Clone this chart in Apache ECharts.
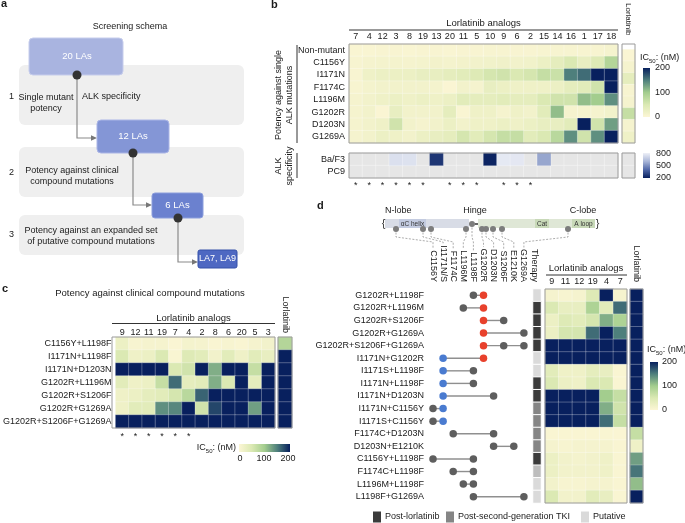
<!DOCTYPE html>
<html><head><meta charset="utf-8">
<script src="https://cdn.jsdelivr.net/npm/echarts@6/dist/echarts.min.js"></script>
<style>html,body{margin:0;padding:0;background:#fff}#c{width:685px;height:523px}</style>
</head><body><div id="c"></div>
<script>
const FONT = "'Liberation Sans', Arial, Helvetica, sans-serif";
const TXT = '#1a1a1a';

// ---------------- data ----------------
const bAnalogs = ['7','4','12','3','8','19','13','20','11','5','10','9','6','2','15','14','16','1','17','18'];
const bMutations = ['Non-mutant','C1156Y','I1171N','F1174C','L1196M','G1202R','D1203N','G1269A'];
const bIC50 = [
  [5,5,6,6,5,6,6,5,6,6,7,7,6,6,8,8,8,7,8,10],
  [8,10,12,12,10,12,14,12,14,15,16,18,15,16,25,35,50,30,45,85],
  [6,20,25,25,25,30,30,35,40,45,55,60,50,55,70,65,150,160,200,200],
  [8,12,15,15,15,15,12,3,15,10,30,25,20,20,20,25,35,40,60,200],
  [10,15,20,25,20,25,20,25,40,35,35,40,35,35,50,60,60,110,100,140],
  [10,15,3,30,15,15,15,35,5,20,20,10,20,15,40,110,10,10,10,15],
  [10,15,20,60,15,10,15,25,15,20,20,25,20,25,30,30,40,200,60,130],
  [10,15,25,20,15,25,30,35,55,40,55,70,70,40,50,80,140,60,140,200]
];
const bLorlatinib = [3,10,35,8,10,70,10,20];
const specLines = ['Ba/F3','PC9'];
const specBaF3 = [null,null,null,745,750,null,260,null,null,null,210,775,770,null,560,null,null,null,null,null];
const bSelected = ['7','4','12','3','8','19','20','11','5','9','6','2'];

const cAnalogs = ['9','12','11','19','7','4','2','8','6','20','5','3'];
const cMutations = ['C1156Y+L1198F','I1171N+L1198F','I1171N+D1203N','G1202R+L1196M','G1202R+S1206F','G1202R+G1269A','G1202R+S1206F+G1269A'];
const cIC50 = [
  [25,8,10,10,3,12,10,5,8,5,10,15],
  [50,20,25,50,5,45,40,15,40,20,40,30],
  [200,200,200,200,50,60,200,120,200,200,70,200],
  [40,20,25,70,160,35,40,120,50,200,35,200],
  [20,25,35,40,55,80,165,200,200,200,200,200],
  [20,40,40,140,145,200,60,180,200,200,130,200],
  [200,200,200,200,200,200,200,200,200,200,200,200]
];
const cLorlatinib = [85,200,200,200,200,200,200];
const cSelected = ['9','12','11','19','7','4'];

const dPositions = ['C1156Y','I1171N/S','F1174C','L1196M','L1198F','G1202R','D1203N','S1206F','E1210K','G1269A','Therapy'];
const dMutations = ['G1202R+L1198F','G1202R+L1196M','G1202R+S1206F','G1202R+G1269A','G1202R+S1206F+G1269A','I1171N+G1202R','I1171S+L1198F','I1171N+L1198F','I1171N+D1203N','I1171N+C1156Y','I1171S+C1156Y','F1174C+D1203N','D1203N+E1210K','C1156Y+L1198F','F1174C+L1198F','L1196M+L1198F','L1198F+G1269A'];
const dSites = [[4,5],[3,5],[5,7],[5,9],[5,7,9],[1,5],[1,4],[1,4],[1,6],[0,1],[0,1],[2,6],[6,8],[0,4],[2,4],[3,4],[4,9]];
const therapyClasses = ['Post-lorlatinib','Post-second-generation TKI','Putative','Other'];
const dTherapy = [2,0,0,0,0,2,2,0,0,1,1,1,1,0,3,2,2];
const dAnalogs = ['9','11','12','19','4','7'];
const dIC50 = [
  [10,8,10,45,200,10],
  [50,30,30,90,40,160],
  [25,45,40,55,120,90],
  [25,55,55,160,200,150],
  [200,200,200,200,200,200],
  [200,200,200,200,200,200],
  [40,20,20,35,30,5],
  [50,25,20,50,50,5],
  [200,200,200,200,100,70],
  [200,200,200,200,120,60],
  [200,200,200,200,160,70],
  [5,5,5,5,5,3],
  [10,8,10,10,10,5],
  [25,15,12,15,20,5],
  [25,15,15,15,20,5],
  [15,8,8,10,10,5],
  [50,15,15,40,30,5]
];
const dLorlatinib = [200,200,200,200,200,200,200,200,200,200,200,70,20,130,155,110,200];
const icTicks = ['0','100','200'];
const specTicks = ['200','500','800'];

// ---------------- styles / layout ----------------
const IC_COLORS = ['#fcf6d5','#dbe9b3','#a3cd8e','#4e7f7c','#08205e'];
const SPEC_COLORS = ['#08205e','#5068a8','#a9b6d8','#eef0f7'];
const THERAPY_COLORS = ['#3b3b3b','#858585','#dadada','#bdbdbd'];
const GRAYCELL = '#e6e6e6';
const G = {
  bMain:{left:349, top:44, width:269, height:99},
  bLorl:{left:622, top:44, width:13, height:99},
  bSpec:{left:349, top:153, width:269, height:25},
  bSpecL:{left:622, top:153, width:13, height:25},
  cMain:{left:112, top:337, width:163, height:91},
  cLorl:{left:278, top:337, width:14, height:91},
  dLol:{left:433, top:289, width:101, height:214},
  dTher:{left:533, top:289, width:8, height:214},
  dMain:{left:545, top:289, width:82, height:214},
  dLorl:{left:630, top:289, width:13, height:214}
};
const gridKeys = ['bMain','bLorl','bSpec','bSpecL','cMain','cLorl','dLol','dTher','dMain','dLorl'];

const ctx = document.createElement('canvas').getContext('2d');
function tw(s, size){ ctx.font = size + 'px ' + FONT; return ctx.measureText(s).width; }

function hm(matrix){ const out=[]; matrix.forEach((row,y)=>row.forEach((v,x)=>{ if(v!=null) out.push([x,y,v]); })); return out; }
function col(arr){ return arr.map(v=>[v]); }

function xCat(gi, data, pos, lab){
  return {type:'category', gridIndex:gi, data, position:pos,
    axisLine:{show:false}, axisTick:{show:false}, splitLine:{show:false},
    axisLabel:Object.assign({fontSize:9, fontFamily:FONT, color:TXT, margin:2, interval:0}, lab||{})};
}
function yCat(gi, data, show, margin){
  return {type:'category', gridIndex:gi, data, inverse:true,
    axisLine:{show:false}, axisTick:{show:false}, splitLine:{show:false},
    axisLabel:{show, fontSize:9, fontFamily:FONT, color:TXT, margin:margin||4, interval:0}};
}
const HM = {type:'heatmap', itemStyle:{borderColor:'rgba(255,255,255,0.45)', borderWidth:0.6}, emphasis:{disabled:true}, animation:false};
function heat(xi, yi, data, extra){ return Object.assign({}, HM, {xAxisIndex:xi, yAxisIndex:yi, data}, extra||{}); }

function siteColor(p){ return p === 5 ? '#e8412c' : (p === 1 ? '#4a7bd0' : '#5e5e5e'); }

// ---------------- graphics (diagram, titles, legends) ----------------
const g = [];
function T(x,y,text,o){ o=o||{}; return {type:'text', x, y, z:100, silent:true, rotation:o.rot||0,
  style:{text, fontSize:o.size||9, fontFamily:FONT, fontWeight:o.bold?'bold':'normal', fill:o.color||TXT,
  align:o.align||'left', verticalAlign:o.va||'middle', lineHeight:o.lh||undefined}}; }
function R(x,y,w,h,fill,stroke,r,z){ return {type:'rect', z:z||1, silent:true, shape:{x,y,width:w,height:h,r:r||0},
  style:{fill:fill||'none', stroke:stroke||null, lineWidth:stroke?1:0}}; }
function PL(points, stroke, lw, dash, z){ return {type:'polyline', z:z||2, silent:true, shape:{points},
  style:{stroke, lineWidth:lw||1, lineDash:dash||null, fill:null}}; }
function C(cx,cy,r,fill,z){ return {type:'circle', z:z||4, silent:true, shape:{cx,cy,r}, style:{fill}}; }
function ic(x, y, align){
  const w1 = tw('IC',9), w2 = tw('50',6), w3 = tw(': (nM)',9);
  const x0 = align === 'right' ? x - (w1+w2+w3) : x;
  g.push(T(x0, y, 'IC'), T(x0+w1, y+3, '50', {size:6}), T(x0+w1+w2, y, ': (nM)'));
}

// panel letters
g.push(T(1,4,'a',{bold:true,size:11}), T(271,5,'b',{bold:true,size:11}), T(2,289,'c',{bold:true,size:11}), T(317,206,'d',{bold:true,size:11}));

// ---- panel a: screening schema ----
g.push(T(130,27,'Screening schema',{align:'center'}));
g.push(R(19,65,225,60,'#efefef',null,6,1), R(19,147,225,50,'#efefef',null,6,1), R(19,215,225,40,'#efefef',null,6,1));
function arrowPath(x1,y1,y2,x2){
  g.push(PL([[x1,y1],[x1,y2],[x2-5,y2]],'#8a8a8a',1.2,null,2));
  g.push({type:'polygon', z:2, silent:true, shape:{points:[[x2-6,y2-2.8],[x2,y2],[x2-6,y2+2.8]]}, style:{fill:'#777'}});
}
arrowPath(77,75,138,97); arrowPath(133,153,205,152); arrowPath(178,218,262,198);
g.push(R(29,38,94,37,'#a9b4e0','#c6cdec',4,3), T(77,56,'20 LAs',{align:'center',color:'#fff',size:9.5}));
g.push(R(97,120,72,33,'#8496d6','#aab5e6',4,3), T(133,136.5,'12 LAs',{align:'center',color:'#fff',size:9.5}));
g.push(R(152,193,51,25,'#6b81cf','#8c9edc',3,3), T(177.5,205.5,'6 LAs',{align:'center',color:'#fff',size:9.5}));
g.push(R(198,250,39,18,'#4e68c2','#3550a8',2,3), T(217.5,259,'LA7, LA9',{align:'center',color:'#fff',size:9}));
g.push(C(77,75,4.5,'#333'), C(133,153,4.5,'#333'), C(178,218,4.5,'#333'));
g.push(T(9,97,'1'), T(46,103,'Single mutant\npotency',{align:'center',lh:11}), T(82,97,'ALK specificity'));
g.push(T(9,173,'2'), T(72,176.5,'Potency against clinical\ncompound mutations',{align:'center',lh:11}));
g.push(T(9,235,'3'), T(91,236,'Potency against an expanded set\nof putative compound mutations',{align:'center',lh:10.5}));

// ---- panel b ----
g.push(T(G.bMain.left+G.bMain.width/2, 23, 'Lorlatinib analogs', {align:'center', size:9.5}));
g.push(PL([[G.bMain.left,30],[G.bMain.left+G.bMain.width,30]],'#333',1,null,5));
g.push(T(284,95,'Potency against single\nALK mutations',{align:'center',rot:Math.PI/2,lh:10.5}));
g.push(PL([[297,45],[297,143]],'#333',1,null,5));
g.push(T(284,166,'ALK\nspecificity',{align:'center',rot:Math.PI/2,lh:10.5}));
g.push(PL([[297,153],[297,178]],'#333',1,null,5));
ic(640,58,'left');

function vbar(x,y,w,h,colors){
  const stops = colors.slice().reverse().map((c,i,a)=>({offset:i/(a.length-1), color:c}));
  g.push({type:'rect', z:5, silent:true, shape:{x,y,width:w,height:h}, style:{fill:new echarts.graphic.LinearGradient(0,0,0,1,stops)}});
}
vbar(643,68,7,49,IC_COLORS);
icTicks.forEach((t,i)=>g.push(T(655,117-i*24.5,t)));
vbar(643,153,7,25,SPEC_COLORS);
specTicks.forEach((t,i)=>g.push(T(656,178-i*12,t)));

// ---- panel c ----
g.push(T(150,293,'Potency against clinical compound mutations',{align:'center',size:9.5}));
g.push(T(G.cMain.left+G.cMain.width/2, 318, 'Lorlatinib analogs', {align:'center', size:9.5}));
g.push(PL([[G.cMain.left,323.5],[G.cMain.left+G.cMain.width,323.5]],'#333',1,null,5));
ic(236,448,'right');
g.push({type:'rect', z:5, silent:true, shape:{x:239,y:444,width:51,height:8},
  style:{fill:new echarts.graphic.LinearGradient(0,0,1,0,IC_COLORS.map((c,i,a)=>({offset:i/(a.length-1),color:c})))}});
icTicks.forEach((t,i)=>g.push(T(240+i*24,458.5,t,{align:'center'})));

// ---- panel d ----
g.push(T(385,211,'N-lobe'), T(475,211,'Hinge',{align:'center'}), T(583,211,'C-lobe',{align:'center'}));
g.push(R(385,219,84,9,'#d8dce6',null,0,3), R(399,219,27,9,'#c3cbe0',null,0,3), T(412.5,223.8,'\u03b1C helix',{align:'center',size:6.5,color:'#333'}));
g.push(R(478,219,117,9,'#dfe7d6',null,0,3), R(535,219,14,9,'#c8d9b8',null,0,3), T(542,223.8,'Cat',{align:'center',size:6.5,color:'#333'}));
g.push(R(572,219,23,9,'#c8d9b8',null,0,3), T(583.5,223.8,'A loop',{align:'center',size:6.5,color:'#333'}));
g.push(T(383.5,223.5,'{',{align:'center',size:11,color:'#333'}), T(597.5,223.5,'}',{align:'center',size:11,color:'#333'}));
g.push(PL([[475,224],[478,224]],'#333',1.5,null,4));
const domainX = [396, 423, 431, 466, 472, 482, 486, 493, 502, 568];
domainX.forEach((xd,i)=>{
  const yd = i === 4 ? 224 : 229;
  const xl = G.dLol.left + i * G.dLol.width / 10;
  const top = Math.max(244, G.dLol.top - 7 - tw(dPositions[i], 9) - 1.5);
  g.push(PL([[xd,yd],[xd,237],[xl,242],[xl,top]],'#8a8a8a',0.7,[2,1.5],3));
  g.push(C(xd,yd,3,'#7d7d7d',4));
});
g.push(T(G.dMain.left+G.dMain.width/2, 268, 'Lorlatinib analogs', {align:'center', size:9.5}));
g.push(PL([[G.dMain.left+1,275],[G.dMain.left+G.dMain.width,275]],'#333',1,null,5));
ic(647,350,'left');
vbar(650,362,8,48,IC_COLORS);
icTicks.forEach((t,i)=>g.push(T(662,410-i*24,t)));
[[373,'Post-lorlatinib',0],[446,'Post-second-generation TKI',1],[581,'Putative',2]].forEach(([x,lab,k])=>{
  g.push(R(x,511.5,8,11,THERAPY_COLORS[k],null,0,5), T(x+12,517,lab));
});

// borders around heatmaps
['bMain','bLorl','bSpec','bSpecL','cMain','cLorl','dMain','dLorl'].forEach(k=>{
  const r = G[k];
  g.push({type:'rect', z:50, silent:true, shape:{x:r.left,y:r.top,width:r.width,height:r.height}, style:{fill:'none', stroke:'#9a9a9a', lineWidth:1}});
});

// ---------------- option ----------------
const option = {
  animation:false,
  grid: gridKeys.map(k=>Object.assign({show:false, containLabel:false}, G[k])),
  xAxis: [
    xCat(0,bAnalogs,'top',{margin:2.5}),
    xCat(1,['Lorlatinib'],'top',{rotate:90, margin:14, fontSize:8}),
    xCat(2,bAnalogs,'bottom',{margin:3, formatter:v=>bSelected.includes(v)?'*':''}),
    xCat(3,['Lorlatinib'],'bottom',{show:false}),
    xCat(4,cAnalogs,'top',{margin:0}),
    xCat(5,['Lorlatinib'],'top',{rotate:90, margin:4}),
    xCat(4,cAnalogs,'bottom',{margin:4, formatter:v=>cSelected.includes(v)?'*':''}),
    {type:'value', gridIndex:6, min:0, max:10, interval:1, position:'top',
      axisLine:{show:false}, axisTick:{show:false}, splitLine:{show:false},
      axisLabel:{rotate:90, margin:7, fontSize:9, fontFamily:FONT, color:TXT, showMinLabel:true, showMaxLabel:true,
        formatter:v=>dPositions[Math.round(v)] || ''}},
    xCat(7,['Therapy'],'top',{show:false}),
    xCat(8,dAnalogs,'top',{margin:2.5}),
    xCat(9,['Lorlatinib'],'top',{rotate:90, margin:7})
  ],
  yAxis: [
    yCat(0,bMutations,true,4), yCat(1,bMutations,false),
    yCat(2,specLines,true,4), yCat(3,specLines,false),
    yCat(4,cMutations,true,4), yCat(5,cMutations,false),
    yCat(6,dMutations,true,9), yCat(7,dMutations,false), yCat(8,dMutations,false), yCat(9,dMutations,false)
  ],
  visualMap: [
    {type:'continuous', min:0, max:200, show:false, seriesIndex:[0,1,5,6,10,11], dimension:2, inRange:{color:IC_COLORS}},
    {type:'continuous', min:200, max:800, show:false, seriesIndex:[3], dimension:2, inRange:{color:SPEC_COLORS}},
    {type:'piecewise', show:false, seriesIndex:[9], dimension:2,
      pieces:THERAPY_COLORS.map((c,i)=>({value:i, color:c}))}
  ],
  series: [
    heat(0,0,hm(bIC50)),
    heat(1,1,hm(col(bLorlatinib))),
    heat(2,2,hm(specLines.map(()=>bAnalogs.map(()=>0))),{itemStyle:{color:GRAYCELL, borderColor:'rgba(255,255,255,0.5)', borderWidth:0.6}}),
    heat(2,2,hm([specBaF3])),
    heat(3,3,hm(specLines.map(()=>[0])),{itemStyle:{color:GRAYCELL, borderColor:'rgba(255,255,255,0.5)', borderWidth:0.6}}),
    heat(4,4,hm(cIC50)),
    heat(5,5,hm(col(cLorlatinib))),
    {type:'custom', xAxisIndex:7, yAxisIndex:6, z:3, animation:false,
      data: dSites.map((s,i)=>[Math.min(...s), Math.max(...s), i]),
      encode:{x:[0,1], y:2},
      renderItem:(p,api)=>{
        const a = api.coord([api.value(0), api.value(2)]);
        const b = api.coord([api.value(1), api.value(2)]);
        return {type:'line', shape:{x1:a[0],y1:a[1],x2:b[0],y2:b[1]}, style:{stroke:'#8f8f8f', lineWidth:1.4}};
      }},
    {type:'scatter', xAxisIndex:7, yAxisIndex:6, z:4, symbolSize:7.5, animation:false, emphasis:{disabled:true},
      data: dSites.flatMap((s,i)=>s.map(p=>({value:[p,i], itemStyle:{color:siteColor(p), opacity:1}})))},
    heat(8,7,hm(col(dTherapy)),{itemStyle:{borderColor:'#fff', borderWidth:1}}),
    heat(9,8,hm(dIC50)),
    heat(10,9,hm(col(dLorlatinib)))
  ],
  graphic: g
};
const chart = echarts.init(document.getElementById('c'), null, {renderer:'canvas'});
chart.setOption(option);
</script>
</body></html>
